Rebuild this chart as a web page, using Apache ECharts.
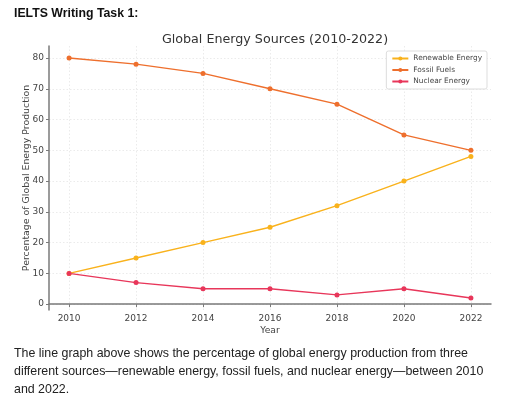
<!DOCTYPE html>
<html lang="en">
<head>
    <meta charset="UTF-8">
    <title>Global Energy Sources</title>
    <script src="https://cdn.jsdelivr.net/npm/echarts@6/dist/echarts.min.js"></script>
    <style>
        body { margin: 0; background: #fff; }
        #wrap { position: relative; width: 512px; height: 410px; overflow: hidden; }
        #main { position: absolute; left: 0; top: 0; width: 512px; height: 410px; }
        .head { position: absolute; left: 14px; top: 6px; font: bold 12.3px "Liberation Sans", Arial, sans-serif; color: #111; }
        .note { position: absolute; left: 14px; top: 344px; font: 12.4px/18px "Liberation Sans", Arial, sans-serif; color: #222; white-space: nowrap; }
    </style>
</head>
<body>
    <div id="wrap">
        <div id="main"></div>
        <div class="head">IELTS Writing Task 1:</div>
        <div class="note">The line graph above shows the percentage of global energy production from three<br>different sources—renewable energy, fossil fuels, and nuclear energy—between 2010<br>and 2022.</div>
    </div>

    <script>
        // data
        const years = [2010, 2012, 2014, 2016, 2018, 2020, 2022]
        const renewable = [10, 15, 20, 25, 32, 40, 48]
        const fossil = [80, 78, 75, 70, 65, 55, 50]
        const nuclear = [10, 7, 5, 5, 3, 5, 2]
        const yTicks = [0, 10, 20, 30, 40, 50, 60, 70, 80]

        const font = "DejaVu Sans"
        const mychart = echarts.init(document.getElementById("main"))

        const mkSeries = (name, vals, color) => ({
            name: name,
            type: "line",
            data: years.map((y, i) => [y, vals[i]]),
            symbol: "circle",
            symbolSize: 5,
            lineStyle: { width: 1.4, color: color },
            itemStyle: { color: color },
            emphasis: { disabled: true },
            animation: false
        })

        const option = {
            title: {
                text: "Global Energy Sources (2010-2022)",
                left: 270, top: 28, textAlign: "center",
                textStyle: { fontFamily: font, fontSize: 12.7, fontWeight: "normal", color: "#333" }
            },
            legend: {
                right: 25, top: 51,
                orient: "vertical",
                itemWidth: 16, itemHeight: 5, itemGap: 4.5,
                padding: [4, 5, 4, 5],
                borderColor: "#ddd", borderWidth: 1, borderRadius: 2,
                backgroundColor: "#fff",
                textStyle: { fontFamily: font, fontSize: 7.4, color: "#444" }
            },
            grid: { left: 49, right: 21, top: 46, bottom: 100 },
            xAxis: {
                type: "value",
                min: 2009.4, max: 2022.6,
                name: "Year", nameLocation: "middle", nameGap: 16, nameMoveOverlap: false,
                nameTextStyle: { fontFamily: font, fontSize: 9.2, color: "#444" },
                axisLine: { lineStyle: { color: "#7a7a7a", width: 1.5 } },
                axisTick: { show: true, length: 3, customValues: years, lineStyle: { color: "#7a7a7a" } },
                axisLabel: { customValues: years, fontFamily: font, fontSize: 9, color: "#444", margin: 4, formatter: v => String(v) },
                splitLine: { show: true, lineStyle: { color: "#e6e6e6", type: [1.5, 2], width: 0.8 } }
            },
            yAxis: {
                type: "value",
                min: -1.9, max: 83.9,
                name: "Percentage of Global Energy Production", nameLocation: "middle", nameGap: 18, nameMoveOverlap: false,
                nameTextStyle: { fontFamily: font, fontSize: 9.4, color: "#444" },
                axisLine: { show: true, lineStyle: { color: "#7a7a7a", width: 1.5 } },
                axisTick: { show: true, length: 3, customValues: yTicks, lineStyle: { color: "#7a7a7a" } },
                axisLabel: { customValues: yTicks, fontFamily: font, fontSize: 9, color: "#444", margin: 5 },
                splitLine: { show: true, lineStyle: { color: "#e6e6e6", type: [1.5, 2], width: 0.8 } }
            },
            series: [
                mkSeries("Renewable Energy", renewable, "#F9B21C"),
                mkSeries("Fossil Fuels", fossil, "#EE6F2D"),
                mkSeries("Nuclear Energy", nuclear, "#E8365A")
            ]
        }
        mychart.setOption(option)
    </script>
</body>
</html>
